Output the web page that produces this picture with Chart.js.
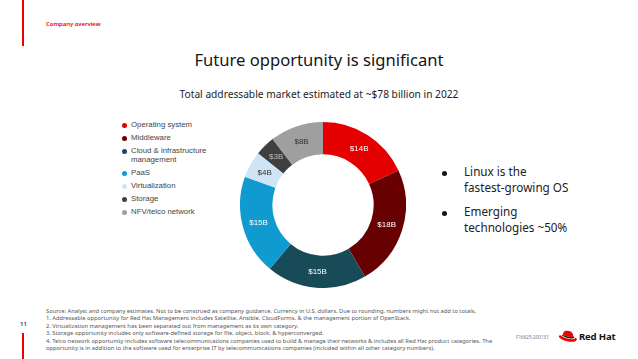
<!DOCTYPE html>
<html>
<head>
<meta charset="utf-8">
<script src="https://cdn.jsdelivr.net/npm/chart.js@4.4.1/dist/chart.umd.min.js"></script>
<style>
  body { margin: 0; background: #fff; width: 638px; height: 359px; overflow: hidden; position: relative; font-family: "Noto Sans", sans-serif; }
  .abs { position: absolute; }
  #topline { left: 22px; top: 0; width: 1.5px; height: 46px; background: #ee0000; }
  #botline { left: 22px; top: 333px; width: 1.5px; height: 26px; background: #ee0000; }
  #section { left: 46px; top: 20px; font-size: 5.9px; color: #ee0000; font-weight: 600; }
  #pagenum { left: 20px; top: 320px; font-size: 6px; color: #333; font-weight: 600; }
  #title { left: 0; width: 638px; top: 48px; text-align: center; font-size: 16.6px; color: #151515; }
  #subtitle { left: 0; width: 638px; top: 87px; text-align: center; font-size: 10.2px; color: #222; }
  #legend { left: 121px; top: 121px; font-family: "Liberation Sans", Arial, sans-serif; font-size: 7.8px; color: #444; line-height: 8.8px; }
  #legend .row { position: relative; padding-left: 10px; margin-bottom: 4.2px; }
  #legend .dot { position: absolute; left: 1px; top: 2.2px; width: 5px; height: 5px; border-radius: 50%; }
  #wrap { left: 240px; top: 122px; width: 166px; height: 166px; }
  #bullets { left: 440px; top: 164px; font-size: 11.7px; color: #222; line-height: 15.5px; }
  #bullets .b { position: relative; padding-left: 24px; margin-bottom: 9px; }
  #bullets .b:before { content: ""; position: absolute; left: 2px; top: 7px; width: 5px; height: 5px; border-radius: 50%; background: #151515; }
  #notes { left: 46px; top: 308px; font-size: 5.75px; color: #555; line-height: 7.4px; white-space: nowrap; }
  #code { left: 516px; top: 334px; font-size: 4.6px; color: #777; }
  #brand { left: 579px; top: 330px; font-size: 9.6px; font-weight: 700; color: #151515; letter-spacing: -0.2px; }
</style>
</head>
<body>
<div id="topline" class="abs"></div>
<div id="botline" class="abs"></div>
<div id="section" class="abs">Company overview</div>
<div id="pagenum" class="abs">11</div>
<div id="title" class="abs">Future opportunity is significant</div>
<div id="subtitle" class="abs">Total addressable market estimated at ~$78 billion in 2022</div>
<div id="legend" class="abs"></div>
<div id="wrap" class="abs"><canvas id="myChart" width="166" height="166"></canvas></div>
<div id="bullets" class="abs">
  <div class="b">Linux is the<br>fastest-growing OS</div>
  <div class="b">Emerging<br>technologies ~50%</div>
</div>
<div id="notes" class="abs">Source: Analyst and company estimates. Not to be construed as company guidance. Currency in U.S. dollars. Due to rounding, numbers might not add to totals.<br>1. Addressable opportunity for Red Hat Management includes Satellite, Ansible, CloudForms, &amp; the management portion of OpenStack.<br>2. Virtualization management has been separated out from management as its own category.<br>3. Storage opportunity includes only software-defined storage for file, object, block, &amp; hyperconverged.<br>4. Telco network opportunity includes software telecommunications companies used to build &amp; manage their networks &amp; includes all Red Hat product categories. The<br>opportunity is in addition to the software used for enterprise IT by telecommunications companies (included within all other category numbers).</div>
<div id="code" class="abs">F16625-200131</div>
<svg class="abs" style="left:558px; top:330px" width="20" height="14" viewBox="0 0 22 16">
  <path d="M6 2.5 C7.5 0.5 11 0.5 13.5 1.5 C15.5 2.3 16.5 4 17 6.5 C17.5 8 16 8.5 13 8 C10 7.5 6.5 6.5 5 5.5 Z" fill="#ee0000"/>
  <path d="M0.5 6.5 C0 9 5 12 11 13 C16 14 21 13.5 21 10.5 C21 9.5 20 8.8 19 8.6 C19.5 10 18 10.8 15 10.6 C11 10.3 5 8.5 2.5 6 Z" fill="#ee0000"/>
  <path d="M5 5.5 C6.5 6.5 10 7.5 13 8 C16 8.5 17.5 8 17 6.5 L18 8.2 C18.5 9.5 16.5 10 13.5 9.6 C10 9.1 5.5 7.6 4 6.3 Z" fill="#151515"/>
</svg>
<div id="brand" class="abs">Red Hat</div>
<script>
const segLabels = ['Operating system', 'Middleware', 'Cloud & infrastructure management', 'PaaS', 'Virtualization', 'Storage', 'NFV/telco network'];
const legendText = ['Operating system', 'Middleware', 'Cloud &amp; infrastructure<br>management', 'PaaS', 'Virtualization', 'Storage', 'NFV/telco network'];
const segValues = [14, 18, 15, 15, 4, 3, 8];
const valueLabels = ['$14B', '$18B', '$15B', '$15B', '$4B', '$3B', '$8B'];
const segColors = ['#e40000', '#670000', '#164b57', '#0f9bcf', '#cfe4f5', '#3d3f41', '#9f9f9f'];
const labelColors = ['#ffffff', '#ffffff', '#ffffff', '#ffffff', '#333333', '#bbbbbb', '#333333'];

// legend built from the same arrays
let lg = document.getElementById('legend');
for (let i = 0; i < segLabels.length; i++) {
  lg.innerHTML += '<div class="row"><span class="dot" style="background:' + segColors[i] + '"></span>' + legendText[i] + '</div>';
}

// draws the $xB labels in the middle of each ring slice
const sliceLabels = {
  id: 'sliceLabels',
  afterDatasetsDraw(chart) {
    let c = chart.ctx;
    let meta = chart.getDatasetMeta(0);
    c.save();
    c.font = '8px "Liberation Sans", Arial, sans-serif';
    c.textAlign = 'center';
    c.textBaseline = 'middle';
    meta.data.forEach((arc, i) => {
      let p = arc.tooltipPosition();
      c.fillStyle = labelColors[i];
      c.fillText(valueLabels[i], p.x, p.y);
    });
    c.restore();
  }
};

var ctx = document.getElementById('myChart').getContext('2d');
var myChart = new Chart(ctx, {
  type: 'doughnut',
  data: {
    labels: segLabels,
    datasets: [{
      data: segValues,
      backgroundColor: segColors,
      borderWidth: 0
    }]
  },
  options: {
    responsive: false,
    animation: false,
    cutout: '61%',
    layout: { padding: 0 },
    plugins: {
      legend: { display: false },
      tooltip: { enabled: false }
    }
  },
  plugins: [sliceLabels]
});
</script>
</body>
</html>
